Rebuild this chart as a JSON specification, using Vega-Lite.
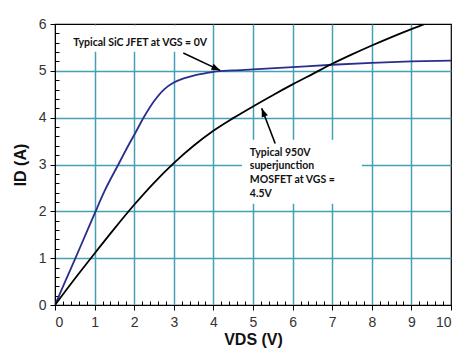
{
  "$schema": "https://vega.github.io/schema/vega-lite/v6.json",
  "autosize": "none",
  "width": 396,
  "height": 281,
  "padding": {"left": 55, "top": 24, "right": 23, "bottom": 46},
  "background": "white",
  "config": {
    "view": {"stroke": "black", "strokeWidth": 1.2},
    "axis": {
      "domainColor": "black",
      "tickColor": "black",
      "gridColor": "#45a0b6",
      "gridWidth": 1.5,
      "labelFont": "Liberation Sans",
      "labelFontSize": 14,
      "labelColor": "#333333",
      "labelOverlap": false,
      "titleFont": "Liberation Sans",
      "titleFontSize": 16,
      "titleFontWeight": "bold",
      "titleColor": "#111111"
    }
  },
  "datasets": {
    "curves": [
      {"series": "JFET", "V": 0, "I": 0},
      {"series": "JFET", "V": 0.25, "I": 0.49},
      {"series": "JFET", "V": 0.5, "I": 0.97},
      {"series": "JFET", "V": 0.75, "I": 1.46},
      {"series": "JFET", "V": 1.0, "I": 1.95},
      {"series": "JFET", "V": 1.25, "I": 2.43},
      {"series": "JFET", "V": 1.6, "I": 3.0},
      {"series": "JFET", "V": 1.9, "I": 3.48},
      {"series": "JFET", "V": 2.0, "I": 3.63},
      {"series": "JFET", "V": 2.25, "I": 4.02},
      {"series": "JFET", "V": 2.5, "I": 4.35},
      {"series": "JFET", "V": 2.75, "I": 4.6},
      {"series": "JFET", "V": 3.0, "I": 4.75},
      {"series": "JFET", "V": 3.25, "I": 4.84},
      {"series": "JFET", "V": 3.5, "I": 4.9},
      {"series": "JFET", "V": 3.75, "I": 4.94},
      {"series": "JFET", "V": 4.0, "I": 4.98},
      {"series": "JFET", "V": 4.5, "I": 5.01},
      {"series": "JFET", "V": 5.0, "I": 5.03},
      {"series": "JFET", "V": 6.0, "I": 5.08},
      {"series": "JFET", "V": 7.0, "I": 5.13},
      {"series": "JFET", "V": 8.0, "I": 5.17},
      {"series": "JFET", "V": 9.0, "I": 5.2},
      {"series": "JFET", "V": 10.0, "I": 5.22},
      {"series": "MOSFET", "V": 0, "I": 0},
      {"series": "MOSFET", "V": 0.5, "I": 0.56},
      {"series": "MOSFET", "V": 1.0, "I": 1.1},
      {"series": "MOSFET", "V": 1.5, "I": 1.63},
      {"series": "MOSFET", "V": 2.0, "I": 2.14},
      {"series": "MOSFET", "V": 2.5, "I": 2.61},
      {"series": "MOSFET", "V": 3.0, "I": 3.03},
      {"series": "MOSFET", "V": 3.5, "I": 3.4},
      {"series": "MOSFET", "V": 4.0, "I": 3.72},
      {"series": "MOSFET", "V": 4.5, "I": 3.99},
      {"series": "MOSFET", "V": 5.0, "I": 4.24},
      {"series": "MOSFET", "V": 5.5, "I": 4.48},
      {"series": "MOSFET", "V": 6.0, "I": 4.71},
      {"series": "MOSFET", "V": 6.5, "I": 4.93},
      {"series": "MOSFET", "V": 7.0, "I": 5.15},
      {"series": "MOSFET", "V": 7.5, "I": 5.35},
      {"series": "MOSFET", "V": 8.0, "I": 5.54},
      {"series": "MOSFET", "V": 8.5, "I": 5.72},
      {"series": "MOSFET", "V": 9.0, "I": 5.89},
      {"series": "MOSFET", "V": 9.5, "I": 6.05}
    ],
    "boxes": [
      {"x": 0.38, "x2": 3.86, "y": 5.41, "y2": 5.97},
      {"x": 4.72, "x2": 7.75, "y": 2.16, "y2": 3.53}
    ],
    "labels": [
      {"name": "JFET", "x": 2.15, "y": 5.6, "text": "Typical SiC JFET at VGS = 0V"},
      {"name": "MOSFET", "x": 4.92, "y": 3.36, "text": ["Typical 950V", "superjunction", "MOSFET at VGS =", "4.5V"]}
    ],
    "arrows": [
      {"name": "JFET", "x": 3.24, "y": 5.38, "x2": 4.17, "y2": 5.01},
      {"name": "MOSFET", "x": 5.56, "y": 3.45, "x2": 5.22, "y2": 4.2}
    ]
  },
  "layer": [
    {
      "data": {"name": "boxes"},
      "mark": {"type": "rect", "fill": "white", "stroke": null},
      "encoding": {
        "x": {"field": "x", "type": "quantitative", "scale": {"domain": [0, 10], "nice": false, "zero": false},
          "axis": {
            "values": [0,0.2,0.4,0.6,0.8,1,1.2,1.4,1.6,1.8,2,2.2,2.4,2.6,2.8,3,3.2,3.4,3.6,3.8,4,4.2,4.4,4.6,4.8,5,5.2,5.4,5.6,5.8,6,6.2,6.4,6.6,6.8,7,7.2,7.4,7.6,7.8,8,8.2,8.4,8.6,8.8,9,9.2,9.4,9.6,9.8,10],
            "tickCount": 200,
            "labelExpr": "datum.value % 1 === 0 ? format(datum.value, 'd') : ''",
            "tickSize": {"condition": {"test": "datum.value % 1 === 0", "value": 5}, "value": -4},
            "gridOpacity": {"condition": {"test": "datum.value % 1 === 0 && datum.value > 0 && datum.value < 10", "value": 1}, "value": 0},
            "labelPadding": 5,
            "title": "VDS (V)",
            "titlePadding": 2
          }},
        "x2": {"field": "x2"},
        "y": {"field": "y", "type": "quantitative", "scale": {"domain": [0, 6], "nice": false, "zero": false},
          "axis": {
            "values": [0,0.2,0.4,0.6,0.8,1,1.2,1.4,1.6,1.8,2,2.2,2.4,2.6,2.8,3,3.2,3.4,3.6,3.8,4,4.2,4.4,4.6,4.8,5,5.2,5.4,5.6,5.8,6],
            "tickCount": 200,
            "labelExpr": "datum.value % 1 === 0 ? format(datum.value, 'd') : ''",
            "tickSize": {"condition": {"test": "datum.value % 1 === 0", "value": 5}, "value": -4},
            "gridOpacity": {"condition": {"test": "datum.value % 1 === 0 && datum.value > 0 && datum.value < 6", "value": 1}, "value": 0},
            "labelPadding": 4,
            "title": "ID (A)",
            "titlePadding": 10
          }},
        "y2": {"field": "y2"}
      }
    },
    {
      "data": {"name": "curves"},
      "mark": {"type": "line", "strokeWidth": 1.8, "clip": true, "interpolate": "monotone"},
      "encoding": {
        "x": {"field": "V", "type": "quantitative"},
        "y": {"field": "I", "type": "quantitative"},
        "color": {"field": "series", "type": "nominal", "scale": {"domain": ["JFET", "MOSFET"], "range": ["#2b2d8c", "#000000"]}, "legend": null}
      }
    },
    {
      "data": {"name": "arrows"},
      "mark": {"type": "rule", "color": "black", "strokeWidth": 1.6},
      "encoding": {
        "x": {"field": "x", "type": "quantitative"},
        "y": {"field": "y", "type": "quantitative"},
        "x2": {"field": "x2"},
        "y2": {"field": "y2"}
      }
    },
    {
      "data": {"name": "arrows"},
      "transform": [{"filter": "datum.name === 'JFET'"}],
      "mark": {"type": "point", "shape": "M0,0L-0.38,1L0.38,1Z", "filled": true, "color": "black", "opacity": 1, "size": 300, "angle": 115},
      "encoding": {
        "x": {"field": "x2", "type": "quantitative"},
        "y": {"field": "y2", "type": "quantitative"}
      }
    },
    {
      "data": {"name": "arrows"},
      "transform": [{"filter": "datum.name === 'MOSFET'"}],
      "mark": {"type": "point", "shape": "M0,0L-0.38,1L0.38,1Z", "filled": true, "color": "black", "opacity": 1, "size": 300, "angle": 339},
      "encoding": {
        "x": {"field": "x2", "type": "quantitative"},
        "y": {"field": "y2", "type": "quantitative"}
      }
    },
    {
      "data": {"name": "labels"},
      "transform": [{"filter": "datum.name === 'JFET'"}],
      "mark": {"type": "text", "font": "Lato", "fontWeight": "bold", "fontSize": 10.5, "align": "center", "baseline": "middle", "color": "#111111"},
      "encoding": {
        "x": {"field": "x", "type": "quantitative"},
        "y": {"field": "y", "type": "quantitative"},
        "text": {"field": "text"}
      }
    },
    {
      "data": {"name": "labels"},
      "transform": [{"filter": "datum.name === 'MOSFET'"}],
      "mark": {"type": "text", "font": "Lato", "fontWeight": "bold", "fontSize": 10.5, "align": "left", "baseline": "top", "lineHeight": 13.7, "color": "#111111"},
      "encoding": {
        "x": {"field": "x", "type": "quantitative"},
        "y": {"field": "y", "type": "quantitative"},
        "text": {"field": "text"}
      }
    }
  ]
}
